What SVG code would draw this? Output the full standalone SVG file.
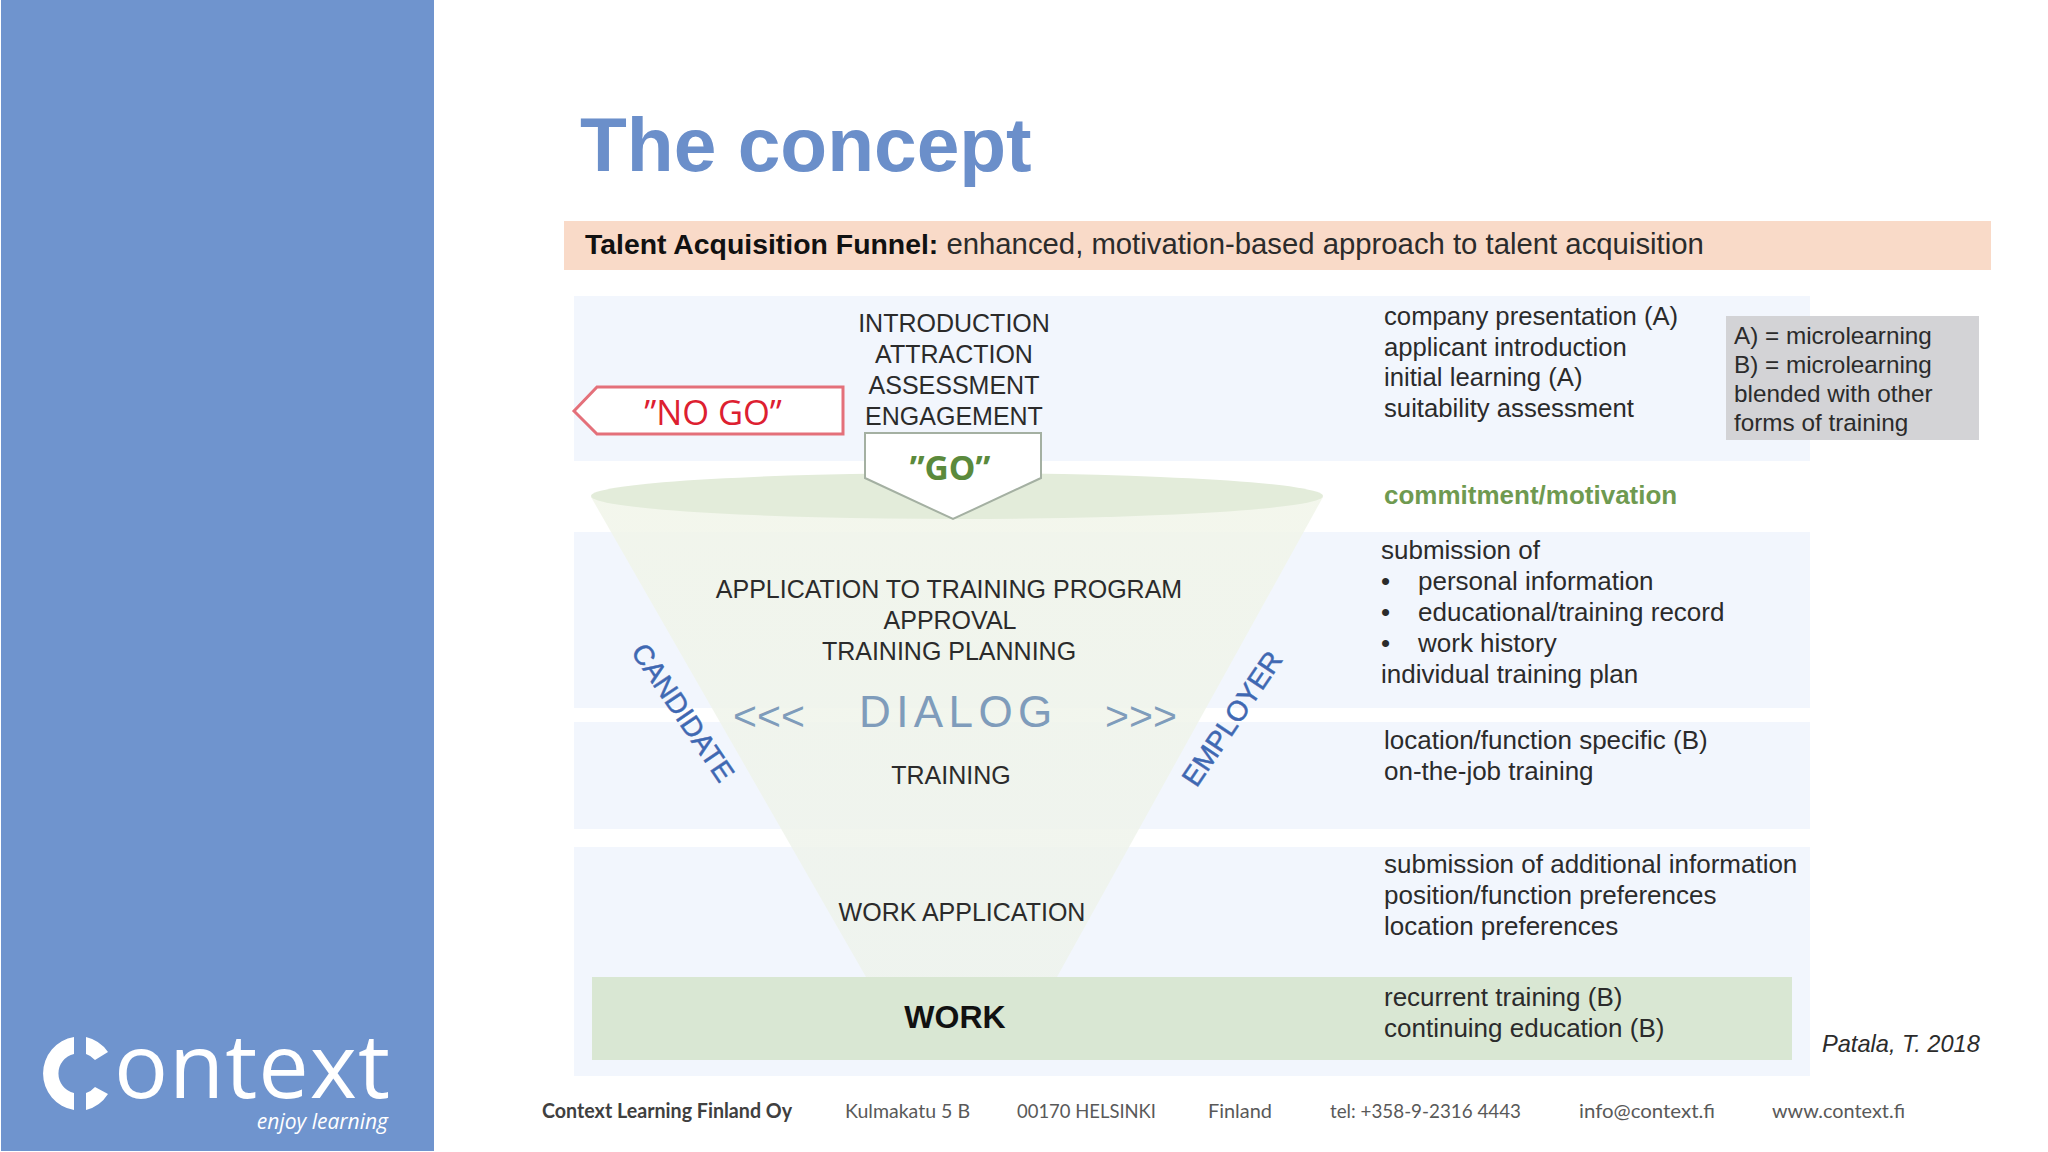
<svg xmlns="http://www.w3.org/2000/svg" width="2048" height="1152" viewBox="0 0 2048 1152">
<style>
text{font-family:"Liberation Sans",Arial,sans-serif;fill:#2b2b2b}
.c{font-size:25px;text-anchor:middle}
.r{font-size:26px}
.l{font-size:24.3px}
.f{font-family:Lato,"Open Sans",sans-serif;font-size:20px;fill:#595959}
.band{fill:#f2f6fd}
.side{font-size:28px;fill:#3f68b2;stroke:#3f68b2;stroke-width:.5px;text-anchor:middle}
.dlg{fill:#7f9cbb}
.q{font-family:"Open Sans","Liberation Sans",sans-serif}
</style>
<defs>
<linearGradient id="funnelFill" x1="0" y1="0" x2="0" y2="1">
<stop offset="0" stop-color="#f1f5e9"/>
<stop offset="1" stop-color="#eef3ec"/>
</linearGradient>
</defs>
<rect width="2048" height="1152" fill="#ffffff"/>
<g id="sidebar">
<rect x="1" y="0" width="433" height="1151" fill="#6f94ce"/>
<g id="logo" fill="#ffffff">
<path d="M74 1037A37 37 0 0 0 74 1110L74 1093A20 20 0 0 1 74 1054Z"/>
<path d="M86 1037A37 37 0 0 1 108 1052L95 1060A20 20 0 0 0 86 1054Z"/>
<path d="M86 1110A37 37 0 0 0 108 1094L95 1087A20 20 0 0 1 86 1093Z"/>
<text x="114" y="1098" textLength="276" style="font-family:'Open Sans',sans-serif;font-size:90px;fill:#ffffff">ontext</text>
<text x="388" y="1129" text-anchor="end" style="font-family:'Open Sans',sans-serif;font-style:italic;font-size:21px;fill:#ffffff">enjoy learning</text>
</g>
</g>
<text id="title" x="580" y="171" style="font-size:76.7px;font-weight:bold;fill:#6b8fca">The concept</text>
<g id="header">
<rect x="564" y="221" width="1427" height="49" fill="#f9dac8"/>
<text x="585" y="254" style="font-size:29.3px"><tspan font-size="28.4" font-weight="bold" fill="#111">Talent Acquisition Funnel:</tspan> enhanced, motivation-based approach to talent acquisition</text>
</g>
<g id="bands">
<rect class="band" x="574" y="296" width="1236" height="165"/>
<rect class="band" x="574" y="532" width="1236" height="176"/>
<rect class="band" x="574" y="722" width="1236" height="107"/>
<rect class="band" x="574" y="847" width="1236" height="229"/>
</g>
<g id="funnel">
<polygon points="591,497 1323,497 1057,977 866,977" fill="url(#funnelFill)" fill-opacity="0.85"/>
<ellipse cx="957" cy="496" rx="366" ry="23" fill="#e3ecda"/>
</g>
<g id="work">
<rect x="592" y="977" width="1200" height="83" fill="#d9e7d3"/>
<text x="955" y="1028" text-anchor="middle" style="font-size:32px;font-weight:bold;fill:#111">WORK</text>
</g>
<g id="no-go">
<polygon points="574,411 597,387 843,387 843,434 597,434" fill="#ffffff" stroke="#e4707a" stroke-width="3"/>
<text class="q" x="713" y="425" text-anchor="middle" style="font-size:34.5px;fill:#dd2030">”NO GO”</text>
</g>
<g id="go">
<polygon points="865,433 1041,433 1041,478 953,519 865,478" fill="#ffffff" stroke="#a4b0a2" stroke-width="2"/>
<text class="q" x="950" y="480" text-anchor="middle" style="font-size:33.5px;font-weight:bold;fill:#5b8a3c">”GO”</text>
</g>
<g id="stage-intro">
<text class="c" x="954" y="332">INTRODUCTION</text>
<text class="c" x="954" y="363">ATTRACTION</text>
<text class="c" x="954" y="394">ASSESSMENT</text>
<text class="c" x="954" y="425">ENGAGEMENT</text>
</g>
<g id="stage-application">
<text class="c" x="949" y="598">APPLICATION TO TRAINING PROGRAM</text>
<text class="c" x="950" y="629">APPROVAL</text>
<text class="c" x="949" y="660">TRAINING PLANNING</text>
</g>
<g id="dialog">
<text class="dlg" x="733" y="730" style="font-size:41px">&lt;&lt;&lt;</text>
<text class="dlg" x="859" y="727" style="font-size:44px;letter-spacing:5.4px">DIALOG</text>
<text class="dlg" x="1105" y="730" style="font-size:41px">&gt;&gt;&gt;</text>
<text class="side" transform="translate(675,718) rotate(56)">CANDIDATE</text>
<text class="side" transform="translate(1240,724) rotate(-56)">EMPLOYER</text>
</g>
<text id="stage-training" class="c" x="951" y="784">TRAINING</text>
<text id="stage-work-application" class="c" x="962" y="921">WORK APPLICATION</text>
<g id="notes-intro">
<text class="r" x="1384" y="325" style="font-size:25.7px">company presentation (A)</text>
<text class="r" x="1384" y="356" style="font-size:25.7px">applicant introduction</text>
<text class="r" x="1384" y="386" style="font-size:25.7px">initial learning (A)</text>
<text class="r" x="1384" y="417" style="font-size:25.7px">suitability assessment</text>
</g>
<text id="notes-commitment" class="r" x="1384" y="504" style="font-weight:bold;fill:#6f9a50">commitment/motivation</text>
<g id="notes-application">
<text class="r" x="1381" y="559">submission of</text>
<text class="r" x="1381" y="590">•</text><text class="r" x="1418" y="590">personal information</text>
<text class="r" x="1381" y="621">•</text><text class="r" x="1418" y="621">educational/training record</text>
<text class="r" x="1381" y="652">•</text><text class="r" x="1418" y="652">work history</text>
<text class="r" x="1381" y="683">individual training plan</text>
</g>
<g id="notes-training">
<text class="r" x="1384" y="749">location/function specific (B)</text>
<text class="r" x="1384" y="780">on-the-job training</text>
</g>
<g id="notes-work-application">
<text class="r" x="1384" y="873">submission of additional information</text>
<text class="r" x="1384" y="904">position/function preferences</text>
<text class="r" x="1384" y="935">location preferences</text>
</g>
<g id="notes-work">
<text class="r" x="1384" y="1006">recurrent training (B)</text>
<text class="r" x="1384" y="1037">continuing education (B)</text>
</g>
<g id="legend">
<rect x="1726" y="316" width="253" height="124" fill="#d3d3d6"/>
<text class="l" x="1734" y="344">A) = microlearning</text>
<text class="l" x="1734" y="373">B) = microlearning</text>
<text class="l" x="1734" y="402">blended with other</text>
<text class="l" x="1734" y="431">forms of training</text>
</g>
<text id="credit" x="1822" y="1052" style="font-size:23.6px;font-style:italic">Patala, T. 2018</text>
<g id="footer">
<text class="f" x="542" y="1118" textLength="250" lengthAdjust="spacingAndGlyphs" style="font-weight:bold;fill:#404040">Context Learning Finland Oy</text>
<text class="f" x="845" y="1118" textLength="125" lengthAdjust="spacingAndGlyphs">Kulmakatu 5 B</text>
<text class="f" x="1017" y="1118" textLength="139" lengthAdjust="spacingAndGlyphs">00170 HELSINKI</text>
<text class="f" x="1208" y="1118" textLength="64" lengthAdjust="spacingAndGlyphs">Finland</text>
<text class="f" x="1330" y="1118" textLength="191" lengthAdjust="spacingAndGlyphs">tel: +358-9-2316 4443</text>
<text class="f" x="1579" y="1118" textLength="136" lengthAdjust="spacingAndGlyphs">info@context.fi</text>
<text class="f" x="1772" y="1118" textLength="133" lengthAdjust="spacingAndGlyphs">www.context.fi</text>
</g>
</svg>
